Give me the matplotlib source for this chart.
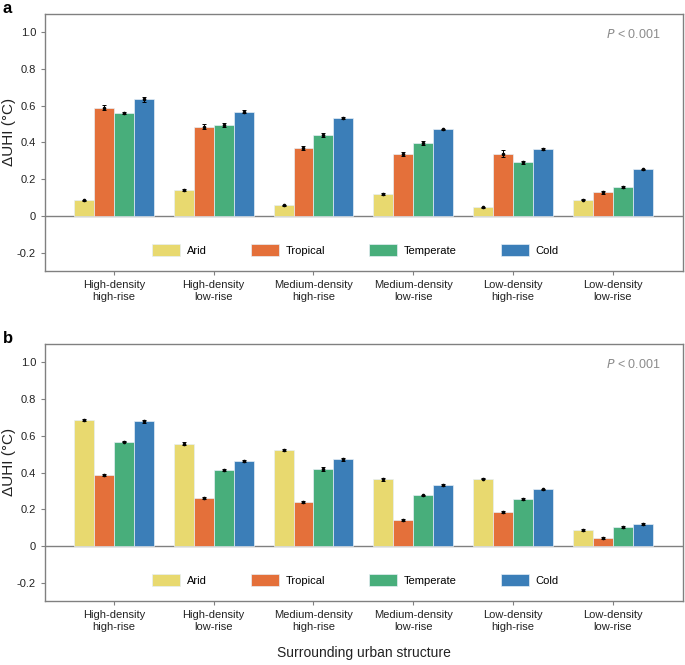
import numpy as np
import matplotlib
matplotlib.use('Agg')
import matplotlib.pyplot as plt

plt.rcParams['font.family'] = ['Liberation Sans', 'DejaVu Sans']

structures = ['High-density\nhigh-rise', 'High-density\nlow-rise', 'Medium-density\nhigh-rise',
              'Medium-density\nlow-rise', 'Low-density\nhigh-rise', 'Low-density\nlow-rise']
climates = ['Arid', 'Tropical', 'Temperate', 'Cold']
colors = ['#E8D96F', '#E4703A', '#48AE7B', '#3B7EB8']

# panel a
a_arid = [0.085, 0.140, 0.057, 0.120, 0.047, 0.087]
a_tropical = [0.590, 0.487, 0.370, 0.337, 0.339, 0.130]
a_temperate = [0.560, 0.497, 0.440, 0.397, 0.292, 0.156]
a_cold = [0.635, 0.568, 0.535, 0.471, 0.366, 0.255]
a_err_arid = [0.004, 0.005, 0.004, 0.004, 0.004, 0.003]
a_err_tropical = [0.015, 0.015, 0.012, 0.010, 0.018, 0.008]
a_err_temperate = [0.006, 0.010, 0.010, 0.010, 0.008, 0.006]
a_err_cold = [0.012, 0.008, 0.005, 0.004, 0.006, 0.003]

# panel b
b_arid = [0.688, 0.558, 0.522, 0.362, 0.366, 0.087]
b_tropical = [0.388, 0.261, 0.241, 0.143, 0.187, 0.043]
b_temperate = [0.567, 0.413, 0.418, 0.275, 0.255, 0.101]
b_cold = [0.678, 0.464, 0.473, 0.332, 0.308, 0.120]
b_err_arid = [0.006, 0.008, 0.004, 0.008, 0.004, 0.003]
b_err_tropical = [0.005, 0.006, 0.005, 0.006, 0.006, 0.005]
b_err_temperate = [0.003, 0.004, 0.010, 0.005, 0.006, 0.005]
b_err_cold = [0.010, 0.005, 0.008, 0.004, 0.003, 0.004]

panels = [
    ('a', [a_arid, a_tropical, a_temperate, a_cold],
     [a_err_arid, a_err_tropical, a_err_temperate, a_err_cold]),
    ('b', [b_arid, b_tropical, b_temperate, b_cold],
     [b_err_arid, b_err_tropical, b_err_temperate, b_err_cold]),
]

fig = plt.figure(figsize=(6.85, 6.65), dpi=100)
frame = '#808080'
x = np.arange(1, len(structures) + 1)
width = 0.2

axes_pos = [[0.0657, 0.5925, 0.931, 0.3865], [0.0657, 0.0962, 0.931, 0.3865]]

for (letter, series, errs), pos in zip(panels, axes_pos):
    ax = fig.add_axes(pos)
    for i, (vals, err) in enumerate(zip(series, errs)):
        xs = x + (i - 1.5) * width
        ax.bar(xs, vals, width, color=colors[i], edgecolor='#e6eef5', linewidth=0.5,
               label=climates[i], zorder=2)
        ax.errorbar(xs, vals, yerr=err, fmt='o', color='black', ms=1.6,
                    elinewidth=0.7, capsize=1.5, capthick=0.7, zorder=3)
    ax.axhline(0, color=frame, lw=1, zorder=1)
    ax.set_xlim(0.31, 6.70)
    ax.set_ylim(-0.3, 1.1)
    ax.set_yticks([-0.2, 0, 0.2, 0.4, 0.6, 0.8, 1.0])
    ax.set_yticklabels(['-0.2', '0', '0.2', '0.4', '0.6', '0.8', '1.0'])
    ax.set_xticks(x)
    ax.set_xticklabels(structures)
    ax.tick_params(axis='both', colors=frame, labelcolor='#222222', labelsize=8,
                   length=3, width=0.8)
    for s in ax.spines.values():
        s.set_color(frame)
        s.set_linewidth(1)
    ax.set_ylabel('ΔUHI (°C)', fontsize=11, color='#222222')
    ax.yaxis.set_label_coords(-0.045, 0.54)
    ax.text(0.9655, 0.92, r'$\it{P}$ < 0.001', transform=ax.transAxes, ha='right',
            va='center', fontsize=9, color='#8c8c8c')
    ax.legend(loc='lower center', bbox_to_anchor=(0.487, 0.02), ncol=4, frameon=False,
              fontsize=8, handlelength=2.5, handleheight=1.3, columnspacing=4.0,
              handletextpad=0.6)
    fig.text(0.004, pos[1] + pos[3] + 13 / 665, letter, fontsize=12, fontweight='bold',
             va='top')

fig.text(0.531, 0.012, 'Surrounding urban structure', ha='center', fontsize=10,
         color='#222222')

fig.savefig('out.png', dpi=100)
